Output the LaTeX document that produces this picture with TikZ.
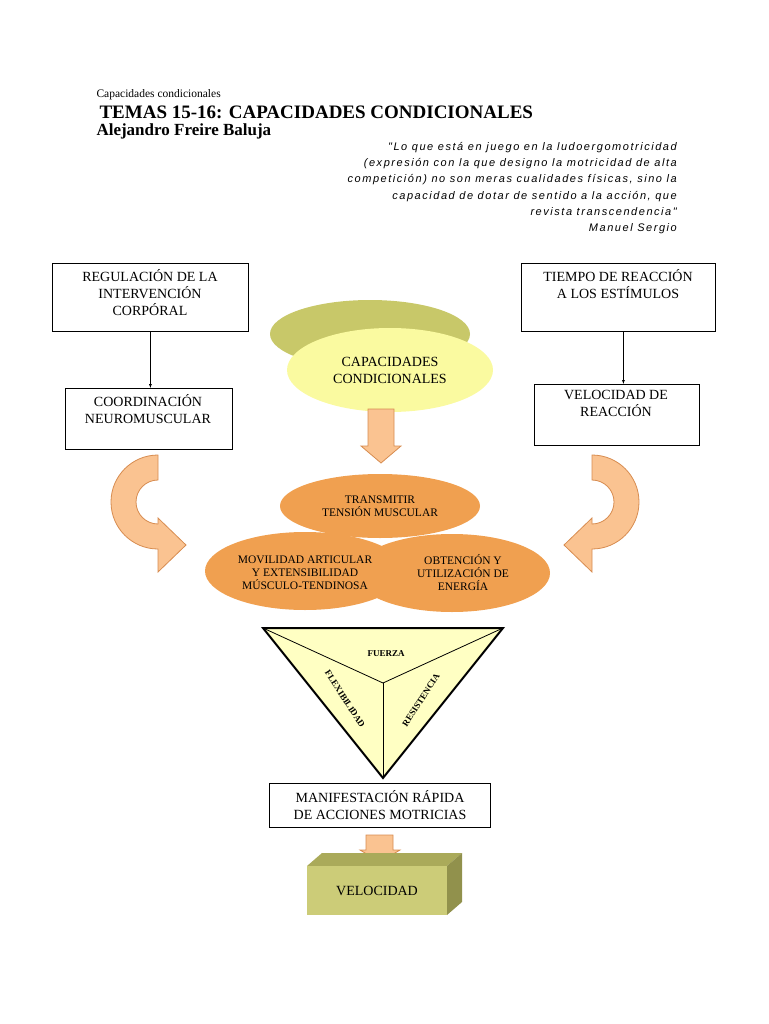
\documentclass[tikz,border=0pt]{standalone}
\usepackage{fontspec}
\setmainfont{Liberation Serif}
\newfontfamily\qfont[LetterSpace=14]{Liberation Sans}
\usetikzlibrary{shapes.geometric}
\definecolor{boxolive}{RGB}{204,204,120}
\definecolor{boxolivedk}{RGB}{170,170,90}
\definecolor{ellfront}{RGB}{250,250,160}
\definecolor{ellback}{RGB}{200,200,105}
\definecolor{orng}{RGB}{240,160,80}
\definecolor{lorng}{RGB}{250,195,145}
\definecolor{orngedge}{RGB}{215,140,80}
\definecolor{trifill}{RGB}{255,255,195}
\begin{document}
\begin{tikzpicture}[x=1pt,y=-1pt,
  box/.style={draw,thick,inner sep=0pt},
  btxt/.style={align=center,font=\fontsize{14}{17}\selectfont,anchor=north},
  oell/.style={ellipse,fill=orng,align=center,font=\fontsize{11.5}{13}\selectfont,inner sep=0pt},
  blk/.style={fill=lorng,draw=orngedge,thick},
  lbl/.style={font=\bfseries\fontsize{9}{10}\selectfont}]
\useasboundingbox (0,0) rectangle (768,1024);
\node[anchor=west,font=\fontsize{11.5}{13}\selectfont] (cap) at (93,95) {Capacidades condicionales};
\node[anchor=west,font=\bfseries\fontsize{19}{21}\selectfont] (tit) at (96,112) {TEMAS 15-16: CAPACIDADES CONDICIONALES};
\node[anchor=west,font=\bfseries\fontsize{17}{19}\selectfont] (aut) at (93,131) {Alejandro Freire Baluja};
\node[anchor=north east,align=right,inner sep=0pt,font=\qfont\itshape\fontsize{11}{16.3}\selectfont] (quo) at (677,142)
 {"Lo que está en juego en la ludoergomotricidad\\(expresión con la que designo la motricidad de alta\\competición) no son meras cualidades físicas, sino la\\capacidad de dotar de sentido a la acción, que\\revista transcendencia"\\Manuel Sergio};
% boxes
\node[box,minimum width=196pt,minimum height=68pt,anchor=north west] (b1) at (52,263) {};
\node[btxt] (b1t) at (150,266) {REGULACIÓN DE LA\\INTERVENCIÓN\\CORPÓRAL};
\node[box,minimum width=194pt,minimum height=68pt,anchor=north west] (b2) at (521,263) {};
\node[btxt] (b2t) at (618,266) {TIEMPO DE REACCIÓN\\A LOS ESTÍMULOS};
\node[box,minimum width=167pt,minimum height=61pt,anchor=north west] (b3) at (65,388) {};
\node[btxt] (b3t) at (148,391) {COORDINACIÓN\\NEUROMUSCULAR};
\node[box,minimum width=165pt,minimum height=61pt,anchor=north west] (b4) at (534,384) {};
\node[btxt] (b4t) at (616,387) {VELOCIDAD DE\\REACCIÓN};
\draw[-latex] (b1.south) -- (b1.south |- b3.north);
\draw[-latex] (b2.south) ++(5,0) coordinate (c2a) -- (c2a |- b4.north);
% 3D ellipse
\node[ellipse,fill=ellback,minimum width=200pt,minimum height=68pt] (eb) at (370,334) {};
\node[ellipse,fill=ellfront,minimum width=206pt,minimum height=84pt,align=center,font=\fontsize{14}{17}\selectfont] (ef) at (390,370) {CAPACIDADES\\CONDICIONALES};
% down block arrow
\draw[blk] (368,409) -- (394,409) -- (394,446) -- (401,446) -- (381,463) -- (361,446) -- (368,446) -- cycle;
% orange ellipses
\node[oell,minimum width=200pt,minimum height=64pt] (o1) at (380,506) {TRANSMITIR\\TENSIÓN MUSCULAR};
\node[oell,minimum width=196pt,minimum height=78pt] (o3) at (452,573) {};
\node[oell,minimum width=200pt,minimum height=78pt] (o2) at (305,571) {};
\node[align=center,font=\fontsize{11.5}{13}\selectfont] (o2t) at (305,573) {MOVILIDAD ARTICULAR\\Y EXTENSIBILIDAD\\MÚSCULO-TENDINOSA};
\node[align=center,font=\fontsize{11.5}{13}\selectfont] (o3t) at (463,573) {OBTENCIÓN Y\\UTILIZACIÓN DE\\ENERGÍA};
% curved arrows
\draw[blk] (158,455) arc[start angle=270,end angle=90,radius=47] -- (158,572) -- (186,545) -- (158,518) -- (158,524) arc[start angle=90,end angle=270,radius=22] -- cycle;
\draw[blk] (592,455) arc[start angle=270,end angle=450,radius=47] -- (592,572) -- (564,545) -- (592,518) -- (592,524) arc[start angle=90,end angle=-90,radius=22] -- cycle;
% triangle
\coordinate (ta) at (263,628); \coordinate (tb) at (503,628); \coordinate (tc) at (383,778); \coordinate (tm) at (383,683);
\fill[trifill] (ta) -- (tb) -- (tc) -- cycle;
\draw[line width=2pt,line join=miter] (ta) -- (tb) -- (tc) -- cycle;
\draw[thick] (ta) -- (tm) -- (tb); \draw[thick] (tm) -- (tc);
\node[lbl] (fu) at (386,654) {FUERZA};
\node[lbl,rotate=-57] (fl) at (345,699) {FLEXIBILIDAD};
\node[lbl,rotate=57] (re) at (421,700) {RESISTENCIA};
% box 5
\node[box,minimum width=221pt,minimum height=44pt,anchor=north west] (b5) at (269,783) {};
\node[align=center,font=\fontsize{14}{17}\selectfont] (b5t) at (380,805) {MANIFESTACIÓN RÁPIDA\\DE ACCIONES MOTRICIAS};
\draw[blk] (366,835) -- (393,835) -- (393,850) -- (400,850) -- (380,862) -- (360,850) -- (366,850) -- cycle;
% 3D box
\fill[boxolivedk] (307,866) -- (322,853) -- (462,853) -- (447,866) -- cycle;
\fill[boxolivedk!85!black] (447,866) -- (462,853) -- (462,902) -- (447,915) -- cycle;
\node[fill=boxolive,minimum width=140pt,minimum height=49pt,anchor=north west] (vb) at (307,866) {};
\node[font=\fontsize{14}{17}\selectfont] (vt) at (377,891) {VELOCIDAD};
\end{tikzpicture}
\end{document}
